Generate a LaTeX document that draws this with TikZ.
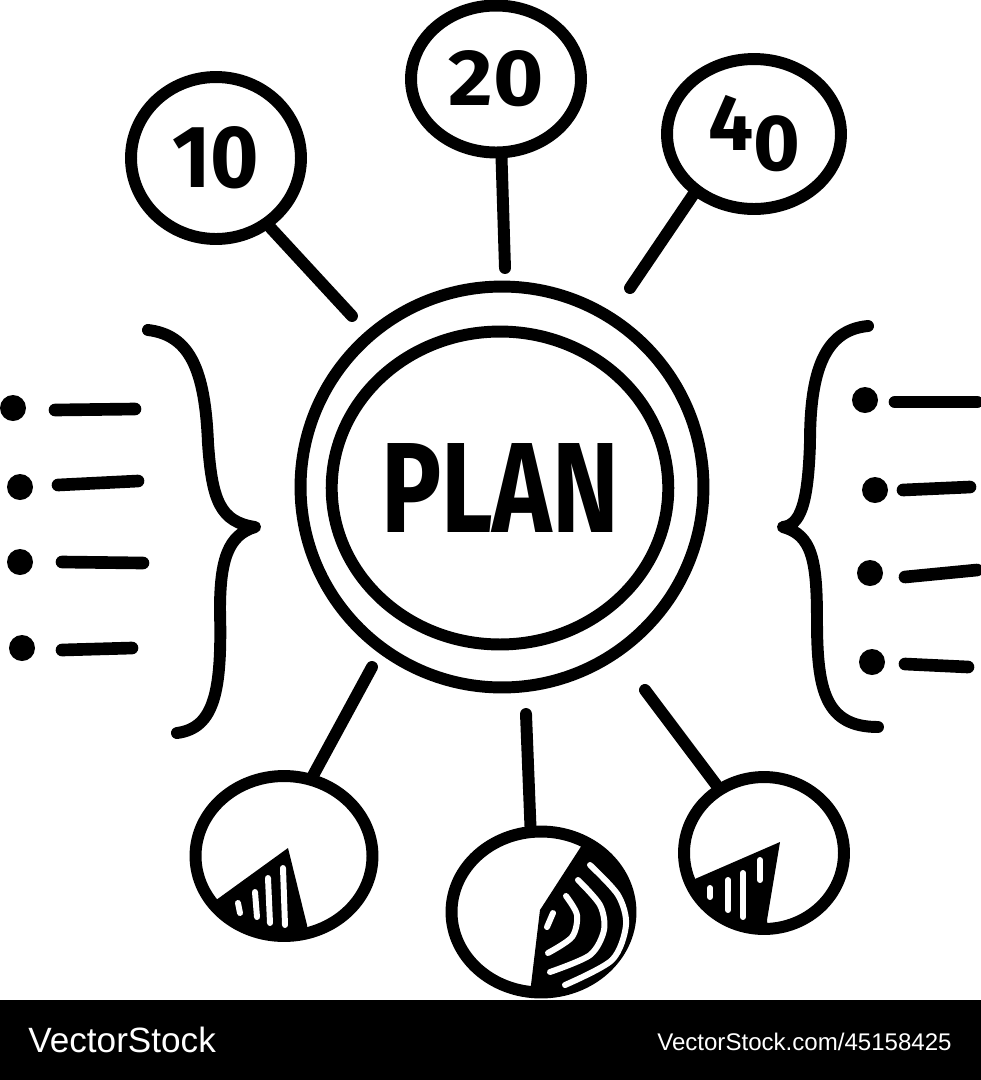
\documentclass[tikz,border=0pt]{standalone}
\usepackage{fontspec}
\setsansfont{Fira Sans}
\newfontfamily\wmfont{Liberation Sans}
\usepackage{graphicx}
\usepackage{tikz}
\usetikzlibrary{positioning,calc,shapes.geometric}

\begin{document}
\begin{tikzpicture}[x=0.02cm,y=-0.02cm,
    ink/.style={line width=6.8pt,line cap=round,line join=round},
    bubble/.style={ellipse,draw,ink,inner sep=0pt},
    slit/.style={white,line width=3.4pt,line cap=round}]
    \useasboundingbox (0,0) rectangle (981,1080);

    \node[bubble,minimum width=8.06cm,minimum height=8.02cm] (ring) at (502,487) {};
    \node[bubble,minimum width=6.72cm,minimum height=6.26cm] (plan) at (500,488) {\resizebox{4.76cm}{1.78cm}{\sffamily\bfseries PLAN}};

    \node[bubble,minimum width=3.4cm,minimum height=3.24cm] (b10) at (216,158) {\resizebox{1.74cm}{1.22cm}{\sffamily\bfseries 10}};
    \node[bubble,minimum width=3.4cm,minimum height=2.94cm] (b20) at (496,79) {\resizebox{1.9cm}{1.1cm}{\sffamily\bfseries 20}};
    \node[bubble,minimum width=3.48cm,minimum height=3.0cm] (b40) at (754,134) {\resizebox{1.84cm}{1.5cm}{\sffamily\bfseries\raisebox{0.25em}{4}0}};

    \coordinate (e10) at (352,316);
    \coordinate (e20) at (505,268);
    \coordinate (e40) at (630,288);
    \draw[ink] (b10.-52) -- (e10);
    \draw[ink] (b20.-86) -- (e20);
    \draw[ink] (b40.-135) -- (e40);

    \node[bubble,minimum width=3.54cm,minimum height=3.2cm] (pL) at (284,856) {};
    \node[bubble,minimum width=3.58cm,minimum height=3.22cm] (pM) at (541,912) {};
    \node[bubble,minimum width=3.2cm,minimum height=3.04cm] (pR) at (764,853) {};

    \coordinate (eL) at (372,667);
    \coordinate (eM) at (526,714);
    \coordinate (eR) at (645,690);
    \draw[ink] (pL.70) -- (eL);
    \draw[ink] (pM.97) -- (eM);
    \draw[ink] (pR.125) -- (eR);

    \begin{scope}
        \clip (pL) ellipse [x radius=1.77cm,y radius=1.6cm];
        \fill (212,903) -- (288,848) -- (307,925) -- (312,960) -- (200,960) -- cycle;
    \end{scope}
    \foreach \x/\a/\b in {238/903/913,255/892/917,268/878/923,283/868/925}
        \draw[slit] (\x,\a) -- (\x+2,\b);

    \begin{scope}
        \clip (pM) ellipse [x radius=1.79cm,y radius=1.61cm];
        \fill (582,845) -- (540,910) -- (528,1010) -- (660,1010) -- (660,830) -- cycle;
    \end{scope}
    \draw[slit] plot[smooth] coordinates {(590,865) (618,895) (626,925) (612,960) (565,985)};
    \draw[slit] plot[smooth] coordinates {(578,880) (600,905) (604,930) (590,955) (550,972)};
    \draw[slit] plot[smooth] coordinates {(566,896) (577,915) (572,937) (548,953)};
    \draw[slit] (553,913) -- (547,927);

    \begin{scope}
        \clip (pR) ellipse [x radius=1.6cm,y radius=1.52cm];
        \fill (688,882) -- (780,842) -- (767,920) -- (770,950) -- (680,950) -- cycle;
    \end{scope}
    \foreach \x/\a/\b in {710/888/897,728/880/910,743/873/917,760/860/880}
        \draw[slit] (\x,\a) -- (\x,\b);

    \draw[ink] (148,330) .. controls (190,335) and (205,370) .. (208,443)
        .. controls (212,500) and (220,522) .. (255,527)
        .. controls (228,535) and (220,560) .. (220,610)
        .. controls (222,690) and (215,728) .. (177,733);
    \draw[ink] (868,326) .. controls (825,330) and (810,370) .. (810,443)
        .. controls (808,505) and (800,525) .. (783,527)
        .. controls (812,535) and (817,560) .. (817,620)
        .. controls (817,690) and (825,727) .. (878,727);

    \foreach \dx/\dy/\ax/\ay/\bx/\by in {13/408/55/410/135/409,20/487/58/485/138/481,
        20/562/62/562/143/563,22/648/62/650/132/648,
        865/400/895/402/977/402,875/490/903/490/970/487,
        870/573/905/577/977/570,872/662/905/664/968/667}{
        \fill (\dx,\dy) circle[radius=13];
        \draw[ink,line width=7.2pt] (\ax,\ay) -- (\bx,\by);
    }

    \fill (0,1000) rectangle (981,1080);
    \node[anchor=west,text=white,inner sep=0pt,font=\wmfont\fontsize{20}{24}\selectfont] (wm) at (28,1040) {VectorStock};
    \node[anchor=east,text=white,inner sep=0pt,font=\wmfont\fontsize{13.7}{16}\selectfont] (wmurl) at (952,1042) {VectorStock.com/45158425};
\end{tikzpicture}
\end{document}
